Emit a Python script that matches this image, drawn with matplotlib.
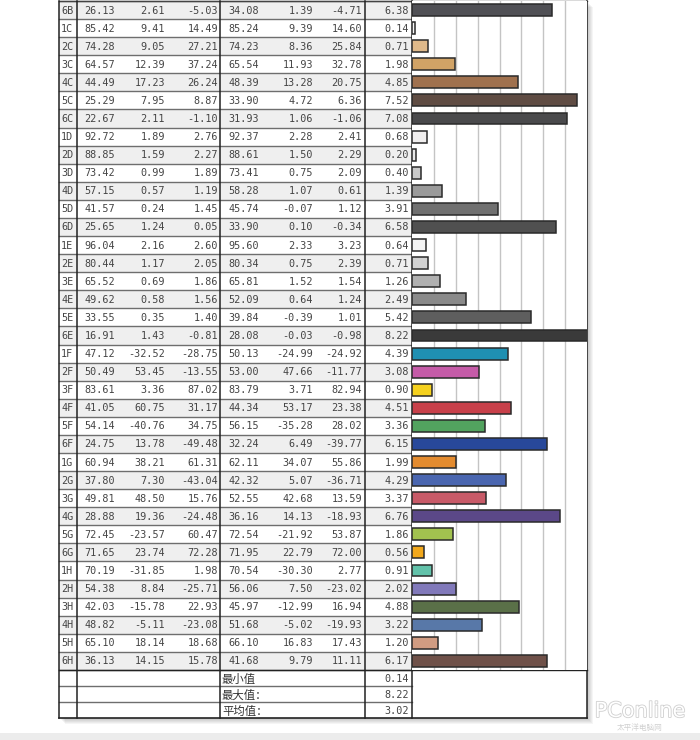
import matplotlib
matplotlib.use("Agg")
import matplotlib.pyplot as plt
from matplotlib.patches import Rectangle
import matplotlib.patheffects as pe

labels = ['6B','1C','2C','3C','4C','5C','6C','1D','2D','3D','4D','5D','6D',
          '1E','2E','3E','4E','5E','6E','1F','2F','3F','4F','5F','6F',
          '1G','2G','3G','4G','5G','6G','1H','2H','3H','4H','5H','6H']
target_L = [26.13, 85.42, 74.28, 64.57, 44.49, 25.29, 22.67, 92.72, 88.85, 73.42, 57.15, 41.57, 25.65,
            96.04, 80.44, 65.52, 49.62, 33.55, 16.91, 47.12, 50.49, 83.61, 41.05, 54.14, 24.75,
            60.94, 37.80, 49.81, 28.88, 72.45, 71.65, 70.19, 54.38, 42.03, 48.82, 65.10, 36.13]
target_a = [2.61, 9.41, 9.05, 12.39, 17.23, 7.95, 2.11, 1.89, 1.59, 0.99, 0.57, 0.24, 1.24,
            2.16, 1.17, 0.69, 0.58, 0.35, 1.43, -32.52, 53.45, 3.36, 60.75, -40.76, 13.78,
            38.21, 7.30, 48.50, 19.36, -23.57, 23.74, -31.85, 8.84, -15.78, -5.11, 18.14, 14.15]
target_b = [-5.03, 14.49, 27.21, 37.24, 26.24, 8.87, -1.10, 2.76, 2.27, 1.89, 1.19, 1.45, 0.05,
            2.60, 2.05, 1.86, 1.56, 1.40, -0.81, -28.75, -13.55, 87.02, 31.17, 34.75, -49.48,
            61.31, -43.04, 15.76, -24.48, 60.47, 72.28, 1.98, -25.71, 22.93, -23.08, 18.68, 15.78]
meas_L = [34.08, 85.24, 74.23, 65.54, 48.39, 33.90, 31.93, 92.37, 88.61, 73.41, 58.28, 45.74, 33.90,
          95.60, 80.34, 65.81, 52.09, 39.84, 28.08, 50.13, 53.00, 83.79, 44.34, 56.15, 32.24,
          62.11, 42.32, 52.55, 36.16, 72.54, 71.95, 70.54, 56.06, 45.97, 51.68, 66.10, 41.68]
meas_a = [1.39, 9.39, 8.36, 11.93, 13.28, 4.72, 1.06, 2.28, 1.50, 0.75, 1.07, -0.07, 0.10,
          2.33, 0.75, 1.52, 0.64, -0.39, -0.03, -24.99, 47.66, 3.71, 53.17, -35.28, 6.49,
          34.07, 5.07, 42.68, 14.13, -21.92, 22.79, -30.30, 7.50, -12.99, -5.02, 16.83, 9.79]
meas_b = [-4.71, 14.60, 25.84, 32.78, 20.75, 6.36, -1.06, 2.41, 2.29, 2.09, 0.61, 1.12, -0.34,
          3.23, 2.39, 1.54, 1.24, 1.01, -0.98, -24.92, -11.77, 82.94, 23.38, 28.02, -39.77,
          55.86, -36.71, 13.59, -18.93, 53.87, 72.00, 2.77, -23.02, 16.94, -19.93, 17.43, 11.11]
delta_e = [6.38, 0.14, 0.71, 1.98, 4.85, 7.52, 7.08, 0.68, 0.20, 0.40, 1.39, 3.91, 6.58,
           0.64, 0.71, 1.26, 2.49, 5.42, 8.22, 4.39, 3.08, 0.90, 4.51, 3.36, 6.15,
           1.99, 4.29, 3.37, 6.76, 1.86, 0.56, 0.91, 2.02, 4.88, 3.22, 1.20, 6.17]
bar_colors = ['#505055', '#f8f8f8', '#dfb98a', '#d1a366', '#a0714e', '#5f4c43', '#4a4a4c',
              '#f0eeee', '#e8e8e8', '#c8c8c8', '#9a9a9a', '#707070', '#505050',
              '#f4f4f4', '#d2d2d2', '#b0b0b0', '#8a8a8a', '#5e5e5e', '#3a3a3a',
              '#1f90b2', '#c55ba8', '#f5d11f', '#c8404a', '#52a35f', '#28489a',
              '#e38b2f', '#4a66b0', '#c85a68', '#5b4888', '#a2c24f', '#f2a81c',
              '#62c2aa', '#8179ba', '#5a7048', '#5878a8', '#d19c82', '#6f5149']
summary_labels = ['最小值', '最大值：', '平均值：']
summary_values = [0.14, 8.22, 3.02]

W, H = 700, 740
fig = plt.figure(figsize=(7, 7.4), dpi=100)
fig.patch.set_facecolor('white')
ax = fig.add_axes([0, 0, 1, 1])
ax.set_xlim(0, W)
ax.set_ylim(H, 0)
ax.axis('off')

n = len(labels)
top = 1.0
rh = 18.08
body_bottom = top + n * rh
srh = 16.0
table_bottom = body_bottom + 3 * srh
x_left, x_lab, x_grp, x_de, x_bar, x_right = 59, 77, 220, 365, 412, 587

# bottom strip
ax.add_patch(Rectangle((0, 733), W, 7, color='#ececec', lw=0, zorder=0))
# shadow
for k in range(1, 7):
    ax.add_patch(Rectangle((x_left + k, top + k), x_right - x_left, table_bottom - top,
                           color='black', alpha=0.04, lw=0, zorder=0.5))
ax.add_patch(Rectangle((x_left, top), x_right - x_left, table_bottom - top,
                       color='white', lw=0, zorder=1))

mono = 'DejaVu Sans Mono'
fs = 7.3
tc = '#444444'
for i, lab in enumerate(labels):
    y0 = top + i * rh
    yc = y0 + rh / 2 + 0.5
    if int(lab[0]) % 2 == 0:
        ax.add_patch(Rectangle((x_left, y0), x_bar - x_left, rh, color='#efefef', lw=0, zorder=1.2))
    ax.text(61, yc, lab, family=mono, fontsize=fs, color=tc, ha='left', va='center', zorder=3)
    for xr, v in zip([115, 165, 218, 259, 313, 362, 409],
                     [target_L[i], target_a[i], target_b[i], meas_L[i], meas_a[i], meas_b[i], delta_e[i]]):
        ax.text(xr, yc, f'{v:.2f}', family=mono, fontsize=fs, color=tc, ha='right', va='center', zorder=3)
    ax.plot([x_left, x_bar], [y0, y0], color='#6e6e6e', lw=1.0, zorder=2)

for j, (sl, sv) in enumerate(zip(summary_labels, summary_values)):
    y0 = body_bottom + j * srh
    yc = y0 + srh / 2 + 1.0
    ax.text(222, yc, sl, family=['Noto Sans CJK SC', 'DejaVu Sans'], fontsize=8.2, color='#333333',
            ha='left', va='center', zorder=3)
    ax.text(409, yc, f'{sv:.2f}', family=mono, fontsize=fs, color=tc, ha='right', va='center', zorder=3)
    ax.plot([x_left, x_bar], [y0, y0], color='#6e6e6e', lw=1.0, zorder=2)

ax.plot([x_left, x_right], [body_bottom, body_bottom], color='#222222', lw=1.0, zorder=4)
ax.plot([x_left, x_right], [table_bottom, table_bottom], color='#222222', lw=1.2, zorder=4)
ax.plot([x_left, x_right], [top, top], color='#444444', lw=1.0, zorder=4)
for xv in [x_left, x_lab, x_grp, x_de, x_bar, x_right]:
    ax.plot([xv, xv], [top, table_bottom], color='#222222', lw=1.1, zorder=4)

# bar panel
bax = fig.add_axes([x_bar / W, (H - body_bottom) / H, (x_right - x_bar) / W, (body_bottom - top) / H])
bax.set_facecolor('white')
bax.barh(range(n), delta_e, height=0.66, color=bar_colors, edgecolor='#2a2a2a', linewidth=1.1, zorder=3)
bax.set_xlim(0, 8)
bax.set_ylim(n - 0.5, -0.5)
bax.set_xticks(range(1, 8))
bax.set_yticks([])
bax.tick_params(length=0, labelbottom=False)
bax.grid(axis='x', color='#c4c4c4', lw=1.0, zorder=0)
for s in bax.spines.values():
    s.set_visible(False)

# watermark
ax.text(640, 711, 'PConline', fontsize=15, color='white', ha='center', va='center', zorder=6,
        family='DejaVu Sans', path_effects=[pe.withStroke(linewidth=1.2, foreground='#cfcfcf')])
ax.text(640, 728, '太平洋电脑网', fontsize=5.5, color='#d0d0d0', ha='center', va='center', zorder=6,
        family=['Noto Sans CJK SC', 'DejaVu Sans'])

fig.savefig('out.png', dpi=100, facecolor='white')
